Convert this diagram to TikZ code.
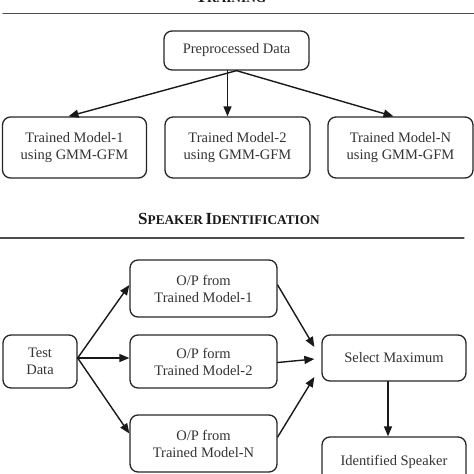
\documentclass[tikz,border=0pt]{standalone}
\usepackage{fontspec}
\setmainfont{Liberation Serif}
\usetikzlibrary{arrows.meta}

\tikzset{
  blk/.style={draw=black!85, line width=1.3pt, rounded corners=8pt, align=center,
    text=black!80, font=\fontsize{14.5}{17}\selectfont, inner sep=0pt},
  flow/.style={draw=black!90, line width=1.4pt, -{Triangle[length=10pt,width=8pt]}},
  rule/.style={draw=black!70, line width=1.2pt},
  head/.style={text=black!90, inner sep=0pt, anchor=base}
}
\newcommand{\scword}[2]{{\fontsize{17}{19}\selectfont #1}{\fontsize{13.3}{15}\selectfont #2}}

\begin{document}
\begin{tikzpicture}[x=1pt,y=-1pt,line cap=round]
  \useasboundingbox (0,0) rectangle (474,474);

  % training part
  \node[head] (trainhead) at (231,2) {\bfseries\scword{T}{RAINING}};
  \coordinate (ruleAl) at (3,13.5);
  \coordinate (ruleAr) at (474,13.5);
  \draw[rule] (ruleAl) -- (ruleAr);

  \node[blk, minimum width=145pt, minimum height=39pt] (pre) at (236.5,50.5) {Preprocessed Data};
  \node[blk, minimum width=144pt, minimum height=61pt] (mone) at (74.5,147.5) {Trained Model-1\\using GMM-GFM};
  \node[blk, minimum width=145pt, minimum height=61pt] (mtwo) at (237.5,147.5) {Trained Model-2\\using GMM-GFM};
  \node[blk, minimum width=145pt, minimum height=61pt] (mN) at (400.5,147.5) {Trained Model-N\\using GMM-GFM};

  \draw[flow] (pre.south) -- ([xshift=-6pt]mone.north);
  \draw[flow] ([xshift=-9pt]pre.south) -- ([xshift=-10pt]mtwo.north);
  \draw[flow] (pre.south) -- ([xshift=-7pt]mN.north);

  % identification part
  \node[head] (idhead) at (229,224) {\bfseries\scword{S}{PEAKER} \scword{I}{DENTIFICATION}};
  \coordinate (ruleBl) at (0,238);
  \coordinate (ruleBr) at (464,238);
  \draw[rule] (ruleBl) -- (ruleBr);

  \node[blk, minimum width=74pt, minimum height=53pt] (test) at (40,361.5) {Test\\Data};
  \node[blk, minimum width=147pt, minimum height=57pt] (opone) at (203.5,288.5) {O/P from\\Trained Model-1};
  \node[blk, minimum width=147pt, minimum height=53pt] (optwo) at (203.5,361.5) {O/P form\\Trained Model-2};
  \node[blk, minimum width=147pt, minimum height=57pt] (opN) at (203.5,443.5) {O/P from\\Trained Model-N};
  \node[blk, minimum width=144pt, minimum height=46pt] (sel) at (394,358) {Select Maximum};
  \node[blk, minimum width=144pt, minimum height=46pt, text depth=0pt] (ident) at (394,460) {Identified Speaker};

  \coordinate (fork) at ([yshift=3.5pt]test.east);
  \draw[flow] (fork) -- ([yshift=3.5pt]opone.west);
  \draw[flow] (fork) -- ([yshift=3.5pt]optwo.west);
  \draw[flow] (fork) -- ([yshift=10pt]opN.west);

  \coordinate (inone) at ([xshift=-7pt,yshift=11pt]sel.west);
  \coordinate (intwo) at ([xshift=-7pt,yshift=-1pt]sel.west);
  \coordinate (inN) at ([xshift=-7pt,yshift=-19pt]sel.west);
  \draw[flow] ([yshift=3.5pt]opone.east) -- (inone);
  \draw[flow] ([yshift=-1pt]optwo.east) -- (intwo);
  \draw[flow] ([yshift=6.5pt]opN.east) -- (inN);

  \draw[flow] ([xshift=-6pt]sel.south) -- ([xshift=-6pt]ident.north);
\end{tikzpicture}
\end{document}
